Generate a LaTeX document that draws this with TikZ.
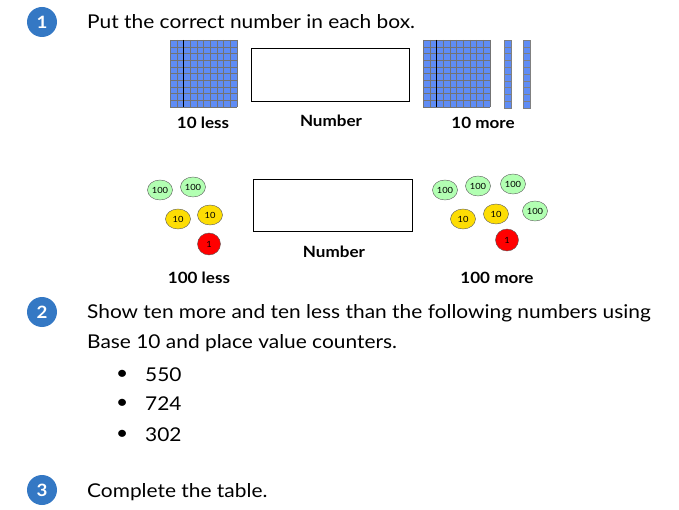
\documentclass[tikz,border=0pt]{standalone}
\usepackage{fontspec}
\setmainfont{Lato}[FakeStretch=1.1]
\usetikzlibrary{shapes.geometric}
\definecolor{badgeblue}{RGB}{52,120,196}
\definecolor{tileblue}{RGB}{95,140,245}
\begin{document}
\begin{tikzpicture}[x=1pt,y=-1pt,
 badge/.style={circle,fill=badgeblue,text=white,minimum size=30pt,inner sep=0pt,font=\fontsize{17}{19}\selectfont\bfseries},
 txt/.style={anchor=west,inner sep=0pt,font=\fontsize{19}{21}\selectfont},
 lab/.style={inner sep=0pt,font=\fontsize{15.5}{17}\selectfont\bfseries},
 numbox/.style={draw,thick,inner sep=0pt},
 hund/.style={fill=green!30,draw=gray!70!black,ellipse,minimum width=25pt,minimum height=20pt,inner sep=0pt,font=\fontsize{8.5}{9}\selectfont},
 ten/.style={hund,fill=yellow!80!orange},
 one/.style={hund,fill=red,minimum width=23pt,minimum height=22pt}]
\useasboundingbox (0,0) rectangle (679,510);
\node[badge] (b1) at (42,22) {1};
\node[badge] (b2) at (42,312) {2};
\node[badge] (b3) at (42,490) {3};
\node[txt] (t1) at (87,22) {Put the correct number in each box.};
\node[txt] (t2a) at (87,313) {Show ten more and ten less than the following numbers using};
\node[txt] (t2b) at (87,343) {Base 10 and place value counters.};
\foreach \v/\y in {550/375,724/404,302/435}{
 \node[txt] at (116,\y) {\textbullet};
 \node[txt] at (145,\y) {\v};}
\node[txt] (t3) at (87,492) {Complete the table.};
\foreach \x in {170,423}{
 \fill[tileblue] (\x,40) rectangle (\x+67,107);
 \foreach \i in {0,...,10}{
  \draw[black!55,line width=0.3pt] (\x+\i*6.7,40) -- (\x+\i*6.7,107);
  \draw[black!55,line width=0.3pt] (\x,40+\i*6.7) -- (\x+67,40+\i*6.7);}
 \draw[line width=0.9pt] (\x+13.4,40) -- (\x+13.4,107);}
\foreach \x in {504,523}{
 \fill[tileblue] (\x,40) rectangle (\x+7,108);
 \foreach \i in {0,...,10} \draw[black!50,line width=0.3pt] (\x,40+\i*6.8) -- (\x+7,40+\i*6.8);
 \draw[black!50,line width=0.3pt] (\x,40) rectangle (\x+7,108);}
\node[numbox,minimum width=158pt,minimum height=53pt] (box1) at (330,74.5) {};
\node[lab] (l1) at (203,123) {10 less};
\node[lab] (l2) at (331,121) {Number};
\node[lab] (l3) at (483,123) {10 more};
\node[hund] at (160,190) {100};
\node[hund] at (193,187) {100};
\node[ten] at (178,219) {10};
\node[ten] at (210,215) {10};
\node[one] at (209,244) {1};
\node[hund] at (445,190) {100};
\node[hund] at (478,186) {100};
\node[hund] at (513,184) {100};
\node[hund] at (535,211) {100};
\node[ten] at (463,219) {10};
\node[ten] at (496,214) {10};
\node[one] at (507,240) {1};
\node[numbox,minimum width=159pt,minimum height=52pt] (box2) at (332.5,205) {};
\node[lab] (l4) at (334,252) {Number};
\node[lab] (l5) at (199,278) {100 less};
\node[lab] (l6) at (497,278) {100 more};
\end{tikzpicture}
\end{document}
